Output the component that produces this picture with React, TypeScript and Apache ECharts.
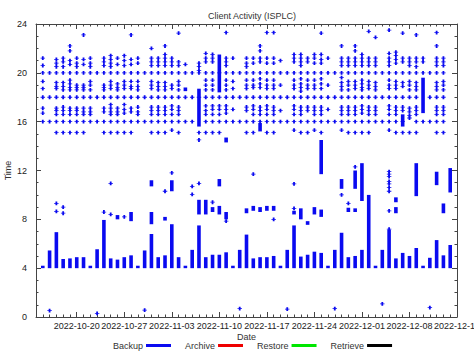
import React, { useEffect, useRef } from "react";
import * as echarts from "echarts";

const dates = [
  "2022-10-15", "2022-10-16", "2022-10-17", "2022-10-18", "2022-10-19", "2022-10-20", "2022-10-21",
  "2022-10-22", "2022-10-23", "2022-10-24", "2022-10-25", "2022-10-26", "2022-10-27", "2022-10-28",
  "2022-10-29", "2022-10-30", "2022-10-31", "2022-11-01", "2022-11-02", "2022-11-03", "2022-11-04",
  "2022-11-05", "2022-11-06", "2022-11-07", "2022-11-08", "2022-11-09", "2022-11-10", "2022-11-11",
  "2022-11-12", "2022-11-13", "2022-11-14", "2022-11-15", "2022-11-16", "2022-11-17", "2022-11-18",
  "2022-11-19", "2022-11-20", "2022-11-21", "2022-11-22", "2022-11-23", "2022-11-24", "2022-11-25",
  "2022-11-26", "2022-11-27", "2022-11-28", "2022-11-29", "2022-11-30", "2022-12-01", "2022-12-02",
  "2022-12-03", "2022-12-04", "2022-12-05", "2022-12-06", "2022-12-07", "2022-12-08", "2022-12-09",
  "2022-12-10", "2022-12-11", "2022-12-12", "2022-12-13", "2022-12-14",
];

const tickLabels = [
  "2022-10-20", "2022-10-27", "2022-11-03", "2022-11-10", "2022-11-17",
  "2022-11-24", "2022-12-01", "2022-12-08", "2022-12-15",
];

// Nightly backup window starting at 04:00, end hour per day
const morningStart = 4.0;
const morningEnd = [
  4.2, 5.45, 6.95, 4.75, 4.8, 4.9, 4.9, 4.2, 5.55, 7.95,
  4.8, 4.7, 4.9, 5.05, 4.2, 5.45, 6.8, 4.9, 5.05, 7.6,
  4.9, 4.2, 5.5, 7.5, 4.9, 5.1, 5.1, 5.3, 4.2, 5.5,
  6.75, 4.8, 4.9, 4.9, 5.0, 4.2, 5.5, 7.5, 4.95, 5.1,
  5.35, 5.25, 4.2, 5.5, 6.9, 4.9, 5.0, 5.5, 10.0, 4.2,
  5.5, 7.15, 4.8, 5.25, 5.0, 5.65, 4.2, 4.85, 6.3, 5.05, 5.9,
];

// Short backup sessions (start hour), one list per day
const shortSessions: number[][] = [
  [21.2, 20.6, 20.0, 19.3, 18.7, 18.0, 17.1, 16.7, 16.0],
  [20.0, 18.0, 16.0, 0.52],
  [21.1, 20.8, 20.5, 20.0, 19.2, 18.9, 18.7, 18.0, 17.1, 16.9, 16.6, 16.0, 15.1, 9.3, 8.65],
  [21.2, 20.9, 20.5, 20.0, 19.2, 18.9, 18.6, 18.0, 17.2, 16.9, 16.6, 16.0, 15.1, 9.0, 8.5],
  [22.2, 21.8, 21.0, 20.7, 20.0, 19.4, 19.1, 18.8, 18.6, 18.0, 17.1, 16.9, 16.6, 16.0, 15.1],
  [21.2, 20.8, 20.5, 20.0, 19.0, 18.8, 18.6, 18.0, 17.1, 16.9, 16.6, 16.0, 15.1],
  [23.1, 21.1, 20.7, 20.0, 19.0, 18.8, 18.6, 18.0, 17.1, 16.8, 16.6, 16.0, 15.1],
  [21.2, 20.8, 20.5, 20.0, 19.3, 19.0, 18.6, 18.0, 17.1, 16.8, 16.6, 16.0],
  [20.0, 18.0, 16.0, 0.3],
  [21.2, 20.9, 20.6, 20.0, 19.0, 18.8, 18.6, 18.0, 17.1, 16.8, 16.0, 15.1, 8.6],
  [21.4, 21.1, 20.8, 20.5, 20.0, 19.3, 19.0, 18.7, 18.0, 17.4, 17.1, 16.8, 16.6, 16.0, 15.1, 10.95, 8.4],
  [21.2, 20.7, 20.0, 19.1, 18.8, 18.6, 18.0, 17.1, 16.8, 16.6, 16.0, 15.1],
  [21.4, 21.0, 20.6, 20.0, 19.3, 19.0, 18.7, 18.0, 17.4, 17.0, 16.7, 16.0, 15.1, 8.2],
  [23.1, 21.1, 20.7, 20.0, 19.3, 18.9, 18.7, 18.0, 17.1, 16.8, 16.0, 15.1],
  [21.2, 20.8, 20.0, 19.3, 18.9, 18.6, 18.0, 17.2, 16.8, 16.6, 16.0],
  [20.0, 18.0, 16.0, 0.57],
  [22.0, 21.2, 20.9, 20.6, 20.0, 19.3, 19.0, 18.7, 18.0, 17.2, 16.9, 16.6, 16.0, 15.1],
  [21.2, 20.9, 20.6, 20.0, 19.2, 18.9, 18.6, 18.0, 17.2, 16.9, 16.6, 16.0, 15.1],
  [22.2, 21.5, 21.2, 20.9, 20.6, 20.0, 19.2, 18.9, 18.6, 18.0, 17.2, 16.9, 16.6, 16.0, 15.1, 10.3],
  [21.2, 20.9, 20.6, 20.0, 19.0, 18.7, 18.0, 17.3, 17.0, 16.6, 16.0, 15.3, 11.8],
  [23.25, 20.9, 20.6, 20.0, 19.3, 19.0, 18.6, 18.0, 17.2, 16.9, 16.6, 16.0, 15.1],
  [20.7, 20.0, 18.0, 16.0],
  [20.0, 18.0, 16.0, 10.7, 10.05],
  [20.8, 20.5, 20.2, 20.0, 18.0, 15.1, 14.5, 10.95],
  [21.6, 21.2, 20.9, 20.0, 19.4, 19.0, 18.6, 18.0, 17.3, 16.9, 16.6, 16.0, 15.1],
  [21.5, 21.2, 20.9, 20.0, 19.4, 19.0, 18.6, 18.0, 17.3, 17.0, 16.6, 16.0, 15.1, 9.4],
  [20.0, 18.0, 17.3, 17.0, 16.6, 16.0, 15.1],
  [23.3, 21.2, 20.9, 20.6, 20.0, 19.4, 19.0, 18.6, 18.0, 17.3, 17.0, 16.7, 16.0, 7.85],
  [21.2, 20.0, 19.3, 18.7, 18.0, 17.0, 16.0],
  [20.0, 18.0, 16.0, 0.68],
  [21.2, 20.8, 20.5, 20.0, 19.4, 19.0, 18.7, 18.0, 17.2, 16.9, 16.0, 15.1],
  [21.2, 20.8, 20.0, 19.4, 19.0, 18.8, 18.0, 17.3, 17.0, 16.6, 16.0, 15.1, 11.7],
  [22.2, 21.8, 21.2, 20.9, 20.0, 19.5, 19.1, 18.8, 18.0, 17.2, 16.9, 16.6, 16.0],
  [23.3, 21.2, 20.8, 20.0, 19.4, 19.0, 18.7, 18.0, 17.3, 17.0, 16.6, 16.0, 15.1],
  [23.3, 21.2, 20.8, 20.0, 19.4, 19.0, 18.7, 18.0, 17.2, 16.9, 16.6, 16.0, 15.1, 8.0],
  [21.0, 20.0, 19.0, 18.0, 16.9, 16.0],
  [20.0, 18.0, 16.0, 0.64],
  [21.5, 21.2, 20.9, 20.0, 19.4, 19.0, 18.7, 18.0, 17.3, 17.0, 16.6, 16.0, 15.3, 10.9, 8.9],
  [21.5, 21.2, 20.9, 20.6, 20.0, 19.5, 19.1, 18.8, 18.5, 18.0, 17.2, 16.9, 16.6, 16.0, 15.1],
  [21.2, 20.9, 20.0, 19.4, 19.0, 18.7, 18.0, 17.2, 16.9, 16.0, 15.1],
  [21.5, 21.2, 20.8, 20.0, 19.4, 19.0, 18.7, 18.0, 17.2, 16.9, 16.6, 16.0, 15.3],
  [23.25, 21.5, 21.1, 20.8, 20.0, 19.5, 19.1, 18.7, 18.0, 17.2, 16.9, 16.6, 16.0, 15.1],
  [21.2, 20.0, 19.0, 18.0, 17.0, 16.0],
  [20.0, 18.0, 16.0, 0.68],
  [22.2, 21.2, 20.9, 20.6, 20.0, 19.6, 19.2, 18.9, 18.6, 18.0, 17.2, 16.9, 16.6, 16.0, 15.3, 10.0],
  [21.2, 20.9, 20.6, 20.0, 19.3, 19.0, 18.6, 18.0, 17.2, 16.9, 16.6, 16.0, 15.1, 9.3],
  [22.2, 21.8, 21.2, 20.9, 20.6, 20.0, 19.3, 19.0, 18.7, 18.0, 17.2, 16.9, 16.6, 16.0, 15.1, 12.3],
  [21.5, 21.2, 20.9, 20.6, 20.0, 19.4, 19.1, 18.8, 18.6, 18.0, 17.3, 17.0, 16.7, 16.0, 15.1],
  [23.4, 21.2, 20.9, 20.6, 20.0, 19.3, 19.0, 18.7, 18.0, 17.2, 16.9, 16.6, 16.0, 15.1],
  [22.9, 21.2, 20.9, 20.6, 20.0, 19.2, 18.9, 18.6, 18.0, 17.2, 16.9, 16.6, 16.0],
  [20.0, 18.0, 16.0, 1.07],
  [23.5, 21.6, 21.2, 20.9, 20.6, 20.0, 19.4, 19.0, 18.7, 18.0, 17.3, 17.0, 16.6, 16.0, 15.3, 11.9, 11.7, 11.5, 11.1, 10.9, 10.6, 10.3, 8.7, 7.2],
  [21.7, 21.4, 21.1, 20.8, 20.0, 19.3, 19.0, 18.7, 18.0, 17.2, 16.9, 16.6, 16.0, 15.1],
  [23.25, 21.2, 20.9, 20.0, 19.2, 18.9, 18.0, 17.2, 16.9, 16.0, 15.1],
  [21.2, 20.9, 20.6, 20.0, 19.3, 19.0, 18.6, 18.0, 17.1, 16.8, 16.5, 16.3, 15.1],
  [23.1, 21.2, 20.9, 20.5, 20.0, 19.2, 18.9, 18.6, 18.0, 17.2, 16.9, 16.6, 16.0, 15.1],
  [21.2, 20.9, 20.0, 16.0],
  [20.0, 18.0, 16.0, 0.77],
  [23.3, 22.2, 21.2, 20.9, 20.6, 20.0, 19.2, 18.9, 18.6, 18.0, 17.2, 16.9, 16.6, 16.0, 15.1],
  [21.2, 20.9, 20.6, 20.0, 19.3, 19.0, 18.6, 18.0, 17.2, 16.9, 16.6, 16.0, 15.1],
  [],
];

// Longer backup sessions: [date, start hour, end hour]
const longSessions: [string, number, number][] = [
  ["2022-10-26", 8.0, 8.35],
  ["2022-10-28", 7.85, 8.6],
  ["2022-10-31", 10.7, 11.2],
  ["2022-10-31", 7.6, 8.6],
  ["2022-11-02", 7.9, 8.2],
  ["2022-11-03", 10.3, 11.2],
  ["2022-11-05", 18.5, 18.8],
  ["2022-11-07", 15.6, 18.7],
  ["2022-11-07", 8.4, 9.6],
  ["2022-11-08", 8.4, 9.6],
  ["2022-11-09", 8.6, 9.0],
  ["2022-11-10", 18.4, 21.5],
  ["2022-11-10", 10.7, 11.3],
  ["2022-11-10", 8.4, 9.1],
  ["2022-11-11", 14.3, 14.7],
  ["2022-11-11", 8.0, 8.6],
  ["2022-11-14", 8.5, 8.9],
  ["2022-11-15", 8.7, 9.1],
  ["2022-11-16", 15.2, 15.9],
  ["2022-11-16", 8.6, 9.0],
  ["2022-11-17", 8.7, 9.1],
  ["2022-11-18", 8.7, 9.1],
  ["2022-11-21", 8.4, 8.7],
  ["2022-11-22", 8.0, 8.9],
  ["2022-11-23", 7.55, 7.85],
  ["2022-11-24", 8.4, 9.0],
  ["2022-11-25", 11.7, 14.5],
  ["2022-11-25", 8.2, 8.8],
  ["2022-11-28", 10.5, 11.3],
  ["2022-11-29", 8.6, 8.95],
  ["2022-11-30", 10.5, 12.0],
  ["2022-11-30", 8.6, 8.9],
  ["2022-12-01", 9.5, 12.6],
  ["2022-12-06", 9.4, 9.8],
  ["2022-12-06", 8.5, 9.0],
  ["2022-12-07", 15.6, 16.6],
  ["2022-12-09", 9.9, 12.6],
  ["2022-12-10", 16.7, 19.6],
  ["2022-12-12", 10.8, 11.9],
  ["2022-12-13", 8.5, 9.3],
  ["2022-12-14", 10.2, 12.2],
];

const BLUE = "#0a0af0";
const FONT = '"Liberation Sans", Arial, sans-serif';
const AXIS_COLOR = "#444";
const AXIS_START = Date.UTC(2022, 9, 14);
const AXIS_END = Date.UTC(2022, 11, 15);

const dayIndex = (d: string) =>
  Math.round((Date.parse(d + "T00:00:00Z") - AXIS_START) / 86400000);

export default function App() {
  const ref = useRef<HTMLDivElement>(null);

  useEffect(() => {
    if (!ref.current) return;
    const chart = echarts.init(ref.current, undefined, { renderer: "svg" });
    const xMax = Math.round((AXIS_END - AXIS_START) / 86400000);
    const tickValues = tickLabels.map(dayIndex);

    const longData = [
      ...morningEnd.map((e, i) => [dayIndex(dates[i]), morningStart, e]),
      ...longSessions.map(([d, s, e]) => [dayIndex(d), s, e]),
    ];
    const shortData = shortSessions.flatMap((hours, i) =>
      hours.map((h) => [dayIndex(dates[i]), h])
    );

    const minorX = (position: "top" | "bottom") => ({
      type: "value",
      position,
      min: 0,
      max: xMax,
      interval: 1,
      axisLine: { show: false, onZero: false },
      axisTick: { show: true, inside: true, length: 2.5, lineStyle: { color: AXIS_COLOR } },
      axisLabel: { show: false },
      splitLine: { show: false },
    });
    const majorX = (position: "top" | "bottom", labels: boolean) => ({
      type: "value",
      position,
      min: 0,
      max: xMax,
      axisLine: { show: true, onZero: false, lineStyle: { color: AXIS_COLOR, width: 1 } },
      axisTick: {
        show: true,
        inside: true,
        length: 5,
        customValues: tickValues,
        lineStyle: { color: AXIS_COLOR },
      },
      axisLabel: {
        show: labels,
        customValues: tickValues,
        showMinLabel: true,
        showMaxLabel: true,
        hideOverlap: false,
        formatter: (v: number) => {
          const k = tickValues.indexOf(Math.round(v));
          return k >= 0 ? tickLabels[k] : "";
        },
        margin: 4,
        fontSize: 9,
        fontFamily: FONT,
        color: "#222",
      },
      splitLine: { show: false },
      ...(labels
        ? {
            name: "Date",
            nameLocation: "middle",
            nameGap: 15,
            nameMoveOverlap: false,
            nameTextStyle: { fontSize: 9, fontFamily: FONT, color: "#333" },
          }
        : {}),
    });
    const yAx = (position: "left" | "right", interval: number, len: number, labels: boolean) => ({
      type: "value",
      position,
      min: 0,
      max: 24,
      interval,
      axisLine: { show: interval === 4, onZero: false, lineStyle: { color: AXIS_COLOR, width: 1 } },
      axisTick: { show: true, inside: true, length: len, lineStyle: { color: AXIS_COLOR } },
      axisLabel: {
        show: labels,
        margin: 9,
        fontSize: 9,
        fontFamily: FONT,
        color: "#222",
      },
      splitLine: { show: false },
      ...(labels
        ? {
            name: "Time",
            nameLocation: "middle",
            nameGap: 24,
            nameMoveOverlap: false,
            nameTextStyle: { fontSize: 9, fontFamily: FONT, color: "#333" },
          }
        : {}),
    });

    chart.setOption({
      animation: false,
      title: {
        text: "Client Activity (ISPLC)",
        left: 203,
        top: 6,
        textStyle: { fontSize: 9, fontWeight: "normal", fontFamily: FONT, color: "#333" },
      },
      legend: {
        left: 108,
        top: 336,
        align: "right",
        itemGap: 14,
        itemWidth: 25,
        itemHeight: 3,
        icon: "rect",
        selectedMode: false,
        textStyle: { fontSize: 9, fontFamily: FONT, color: "#333", padding: [0, -2, 0, 0] },
        data: ["Backup", "Archive", "Restore", "Retrieve"],
      },
      grid: {
        left: 36,
        top: 24,
        width: 421,
        height: 293,
        containLabel: false,
        outerBoundsMode: "none",
      },
      xAxis: [majorX("bottom", true), minorX("bottom"), majorX("top", false), minorX("top")],
      yAxis: [yAx("left", 4, 5, true), yAx("left", 1, 2.5, false), yAx("right", 4, 5, false), yAx("right", 1, 2.5, false)],
      series: [
        {
          name: "Backup",
          type: "custom",
          xAxisIndex: 0,
          yAxisIndex: 0,
          silent: true,
          itemStyle: { color: BLUE },
          encode: { x: 0, y: [1, 2] },
          data: longData,
          renderItem: (_params: any, api: any) => {
            const a = api.coord([api.value(0), api.value(1)]);
            const b = api.coord([api.value(0), api.value(2)]);
            const w = 3.6;
            return {
              type: "rect",
              shape: { x: a[0] - w / 2, y: b[1], width: w, height: Math.max(a[1] - b[1], 2) },
              style: { fill: BLUE },
            };
          },
        },
        {
          name: "Backup",
          type: "scatter",
          xAxisIndex: 0,
          yAxisIndex: 0,
          silent: true,
          symbol: "path://M3,0 L7,0 L7,4 L10,4 L10,6 L7,6 L7,10 L3,10 L3,6 L0,6 L0,4 L3,4 Z",
          symbolSize: [4.5, 3.8],
          itemStyle: { color: BLUE, opacity: 1 },
          data: shortData,
        },
        { name: "Archive", type: "line", data: [], color: "#ee0000", itemStyle: { color: "#ee0000" } },
        { name: "Restore", type: "line", data: [], color: "#00e600", itemStyle: { color: "#00e600" } },
        { name: "Retrieve", type: "line", data: [], color: "#000000", itemStyle: { color: "#000000" } },
      ],
    });
    return () => chart.dispose();
  }, []);

  return (
    <div
      ref={ref}
      style={{ position: "fixed", left: 0, top: 0, width: 474, height: 353, background: "#fff" }}
    />
  );
}
